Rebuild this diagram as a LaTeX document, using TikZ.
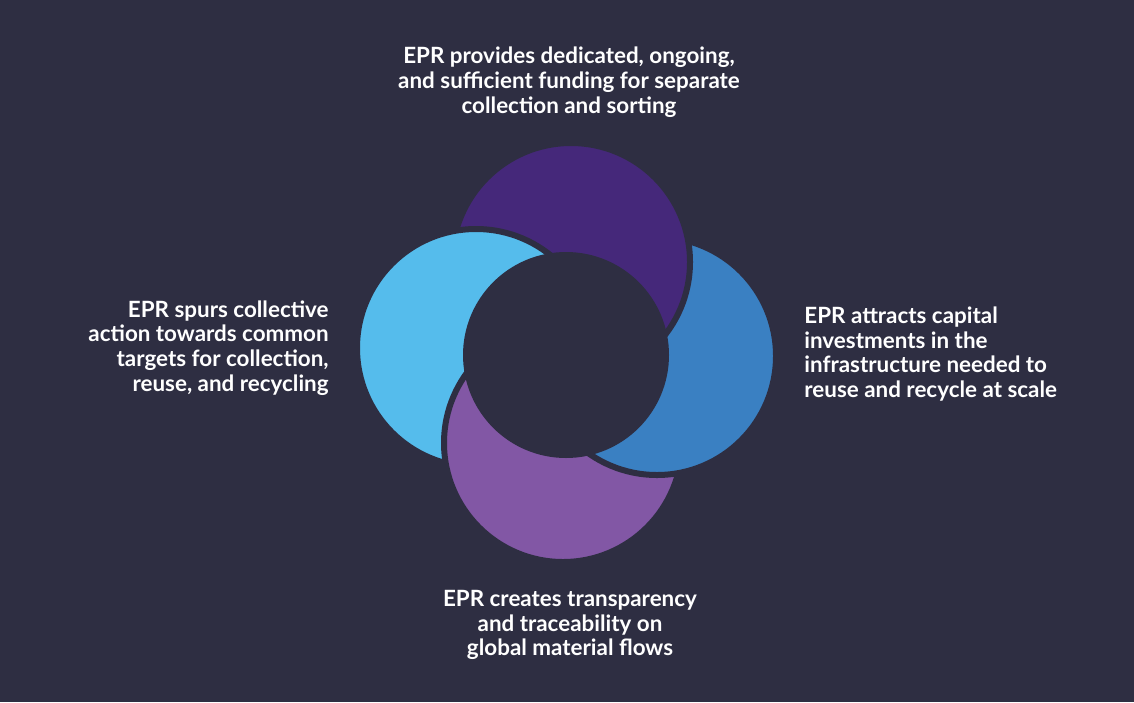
\documentclass[tikz,border=0pt]{standalone}
\usepackage{fontspec}
\setmainfont{Lato}
\definecolor{bgnavy}{HTML}{2E2E42}
\definecolor{lobepurple}{HTML}{45287A}
\definecolor{lobesky}{HTML}{55BCEC}
\definecolor{lobelilac}{HTML}{8257A5}
\definecolor{lobeblue}{HTML}{3A80C2}
\tikzset{
  lobe/.style={draw=bgnavy,line width=3pt},
  caption/.style={text=white,font=\bfseries\fontsize{11.2}{12.4}\selectfont,inner sep=0pt}
}
\begin{document}
\begin{tikzpicture}[x=0.5pt,y=-0.5pt]
  \fill[bgnavy] (0,0) rectangle (1134,702);
  \useasboundingbox (0,0) rectangle (1134,702);
  %lobes
  \fill[lobe,fill=lobesky] (476,348) circle (119);
  \fill[lobe,fill=lobelilac] (563,443) circle (119);
  \fill[lobe,fill=lobeblue] (657,356) circle (119);
  \fill[lobe,fill=lobepurple] (571,262) circle (119);
  \begin{scope}
    \clip (300,100) rectangle (566,355);
    \fill[lobe,fill=lobesky] (476,348) circle (119);
  \end{scope}
  %hole
  \fill[lobe,fill=bgnavy] (566,355) circle (100);
  %captions
  \node[caption,align=center] (top) at (569,82) {EPR provides dedicated, ongoing,\\and sufficient funding for separate\\collection and sorting};
  \node[caption,align=left,anchor=west] (right) at (804,354) {EPR attracts capital\\investments in the\\infrastructure needed to\\reuse and recycle at scale};
  \node[caption,align=right,anchor=east] (left) at (329,348) {EPR spurs collective\\action towards common\\targets for collection,\\reuse, and recycling};
  \node[caption,align=center] (bottom) at (570,625) {EPR creates transparency\\and traceability on\\global material flows};
\end{tikzpicture}
\end{document}
